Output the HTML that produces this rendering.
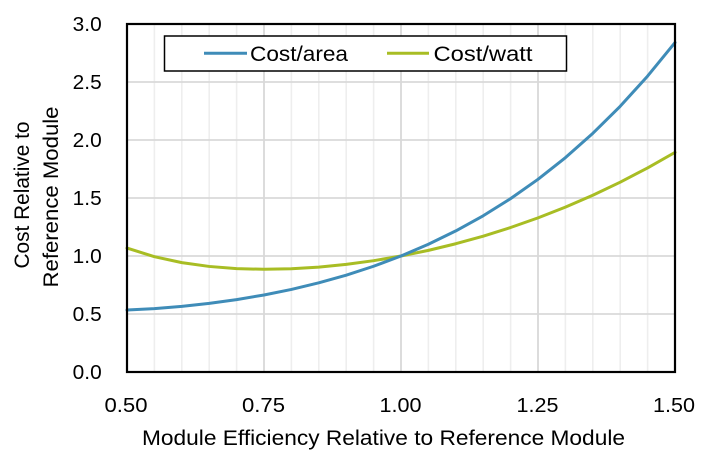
<!DOCTYPE html>
<html>
<head>
<meta charset="utf-8">
<style>
  html, body { margin: 0; padding: 0; background: #ffffff; }
  svg { display: block; }
  text { font-family: "Liberation Sans", "DejaVu Sans", sans-serif; fill: #000; }
</style>
</head>
<body>
<svg width="712" height="471" viewBox="0 0 712 471" xmlns="http://www.w3.org/2000/svg">
  <rect x="0" y="0" width="712" height="471" fill="#ffffff"/>

  <!-- minor vertical gridlines -->
  <g stroke="#eeeeee" stroke-width="1.6">
    <line x1="154.4" y1="24" x2="154.4" y2="372"/>
    <line x1="181.8" y1="24" x2="181.8" y2="372"/>
    <line x1="209.2" y1="24" x2="209.2" y2="372"/>
    <line x1="236.6" y1="24" x2="236.6" y2="372"/>
    <line x1="291.4" y1="24" x2="291.4" y2="372"/>
    <line x1="318.8" y1="24" x2="318.8" y2="372"/>
    <line x1="346.2" y1="24" x2="346.2" y2="372"/>
    <line x1="373.6" y1="24" x2="373.6" y2="372"/>
    <line x1="428.4" y1="24" x2="428.4" y2="372"/>
    <line x1="455.8" y1="24" x2="455.8" y2="372"/>
    <line x1="483.2" y1="24" x2="483.2" y2="372"/>
    <line x1="510.6" y1="24" x2="510.6" y2="372"/>
    <line x1="565.4" y1="24" x2="565.4" y2="372"/>
    <line x1="592.8" y1="24" x2="592.8" y2="372"/>
    <line x1="620.2" y1="24" x2="620.2" y2="372"/>
    <line x1="647.6" y1="24" x2="647.6" y2="372"/>
  </g>
  <!-- major gridlines -->
  <g stroke="#d9d9d9" stroke-width="1.8">
    <line x1="264" y1="24" x2="264" y2="372"/>
    <line x1="401" y1="24" x2="401" y2="372"/>
    <line x1="538" y1="24" x2="538" y2="372"/>
    <line x1="127" y1="314" x2="675" y2="314"/>
    <line x1="127" y1="256" x2="675" y2="256"/>
    <line x1="127" y1="198" x2="675" y2="198"/>
    <line x1="127" y1="140" x2="675" y2="140"/>
    <line x1="127" y1="82" x2="675" y2="82"/>
  </g>

  <!-- Cost/watt (green) -->
  <polyline fill="none" stroke="#a8bd24" stroke-width="3" stroke-linejoin="round" stroke-linecap="round"
    points="127,248.1 154.4,256.68 181.8,262.6 209.2,266.44 236.6,268.59 264,269.3 291.4,268.76 318.8,267.11 346.2,264.39 373.6,260.68 401,256 428.4,250.36 455.8,243.74 483.2,236.14 510.6,227.52 538,217.86 565.4,207.11 592.8,195.23 620.2,182.19 647.6,167.92 675,152.37"/>

  <!-- Cost/area (blue) -->
  <polyline fill="none" stroke="#3f8cb8" stroke-width="3" stroke-linejoin="round" stroke-linecap="round"
    points="127,310.05 154.4,308.57 181.8,306.36 209.2,303.39 236.6,299.61 264,294.97 291.4,289.41 318.8,282.84 346.2,275.15 373.6,266.25 401,256 428.4,244.27 455.8,230.91 483.2,215.76 510.6,198.63 538,179.32 565.4,157.64 592.8,133.37 620.2,106.26 647.6,76.08 675,42.55"/>

  <!-- plot border -->
  <rect x="127" y="24" width="548" height="348" fill="none" stroke="#000" stroke-width="2.2"/>

  <!-- legend -->
  <rect x="164.5" y="36" width="402" height="35" fill="#ffffff" stroke="#000" stroke-width="1.5"/>
  <line x1="204" y1="53.3" x2="247" y2="53.3" stroke="#3f8cb8" stroke-width="3"/>
  <text x="250" y="61" font-size="21" textLength="98" lengthAdjust="spacingAndGlyphs">Cost/area</text>
  <line x1="387" y1="53.3" x2="429" y2="53.3" stroke="#a8bd24" stroke-width="3"/>
  <text x="433.5" y="61" font-size="21" textLength="99" lengthAdjust="spacingAndGlyphs">Cost/watt</text>

  <!-- y tick labels -->
  <g font-size="20" text-anchor="end">
    <text x="101.7" y="31" textLength="29" lengthAdjust="spacingAndGlyphs">3.0</text>
    <text x="101.7" y="89" textLength="29" lengthAdjust="spacingAndGlyphs">2.5</text>
    <text x="101.7" y="147" textLength="29" lengthAdjust="spacingAndGlyphs">2.0</text>
    <text x="101.7" y="205" textLength="29" lengthAdjust="spacingAndGlyphs">1.5</text>
    <text x="101.7" y="263" textLength="29" lengthAdjust="spacingAndGlyphs">1.0</text>
    <text x="101.7" y="321" textLength="29" lengthAdjust="spacingAndGlyphs">0.5</text>
    <text x="101.7" y="379" textLength="29" lengthAdjust="spacingAndGlyphs">0.0</text>
  </g>

  <!-- x tick labels -->
  <g font-size="20" text-anchor="middle">
    <text x="126" y="412" textLength="43" lengthAdjust="spacingAndGlyphs">0.50</text>
    <text x="263.5" y="412" textLength="43" lengthAdjust="spacingAndGlyphs">0.75</text>
    <text x="400.5" y="412" textLength="42" lengthAdjust="spacingAndGlyphs">1.00</text>
    <text x="537.5" y="412" textLength="42" lengthAdjust="spacingAndGlyphs">1.25</text>
    <text x="674" y="412" textLength="42" lengthAdjust="spacingAndGlyphs">1.50</text>
  </g>

  <!-- x axis title -->
  <text x="142" y="445" font-size="21" textLength="483" lengthAdjust="spacingAndGlyphs">Module Efficiency Relative to Reference Module</text>

  <!-- y axis title -->
  <text transform="translate(29,195) rotate(-90)" x="0" y="0" font-size="21" text-anchor="middle" textLength="147" lengthAdjust="spacingAndGlyphs">Cost Relative to</text>
  <text transform="translate(58,197) rotate(-90)" x="0" y="0" font-size="21" text-anchor="middle" textLength="181" lengthAdjust="spacingAndGlyphs">Reference Module</text>
</svg>
</body>
</html>
